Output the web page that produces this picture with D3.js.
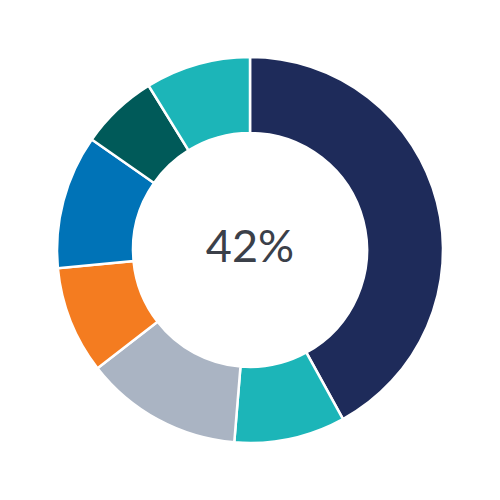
<!DOCTYPE html>
<html>
<head>
<meta charset="utf-8">
<script src="https://cdn.jsdelivr.net/npm/d3@7"></script>
<style>
  html, body { margin: 0; padding: 0; background: #fff; }
</style>
</head>
<body>
<div id="chart"></div>
<script>
// Datos del gráfico (en sentido horario desde las 12:00)
const segmentos = ["A", "B", "C", "D", "E", "F", "G"];
const valores = [42, 9.3, 13.2, 9, 11.2, 6.5, 8.8];
const colores = ["#1e2b5a", "#1cb5b8", "#aab4c3", "#f47c20", "#0073b7", "#005a59", "#1cb5b8"];
const etiquetaCentral = "42%";

const width = 500;
const height = 500;
const outerRadius = 193;
const innerRadius = 117;

const svg = d3.select("#chart")
  .append("svg")
  .attr("width", width)
  .attr("height", height)
  .append("g")
  .attr("transform", `translate(${width / 2}, ${height / 2})`);

const datos = segmentos.map((s, i) => ({ nombre: s, valor: valores[i], color: colores[i] }));

const pie = d3.pie()
  .value(d => d.valor)
  .sort(null);

const arc = d3.arc()
  .innerRadius(innerRadius)
  .outerRadius(outerRadius);

svg.selectAll(".slice")
  .data(pie(datos))
  .enter()
  .append("path")
  .attr("class", "slice")
  .attr("d", arc)
  .attr("fill", d => d.data.color)
  .attr("stroke", "#fff")
  .attr("stroke-width", 2.5);

// Texto central
svg.append("text")
  .attr("x", 0)
  .attr("y", 12)
  .attr("text-anchor", "middle")
  .style("font-family", "Lato, sans-serif")
  .style("font-size", "45px")
  .style("fill", "#3b4049")
  .text(etiquetaCentral);
</script>
</body>
</html>
